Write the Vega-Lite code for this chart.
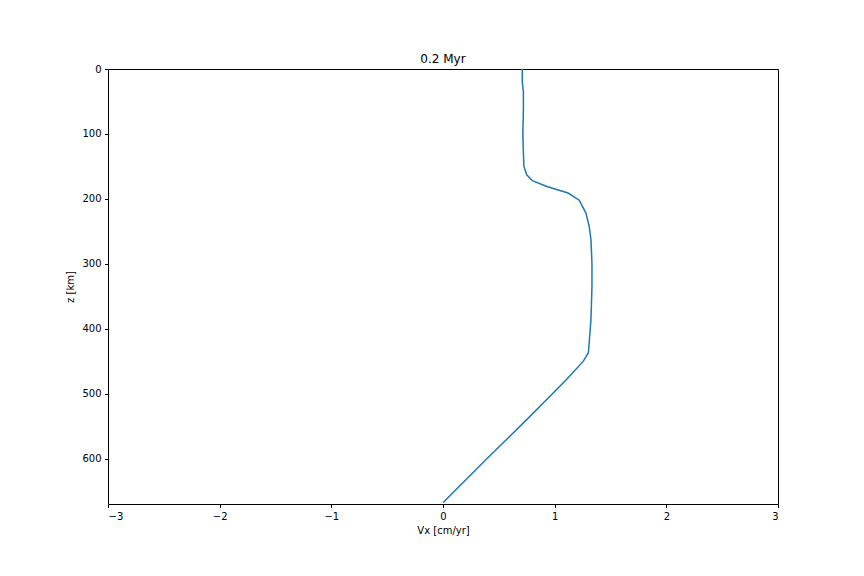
{
  "$schema": "https://vega.github.io/schema/vega-lite/v6.json",
  "width": 670,
  "height": 435,
  "autosize": "none",
  "padding": {"left": 108, "top": 69, "right": 86, "bottom": 72},
  "background": "white",
  "title": {"text": "0.2 Myr", "font": "DejaVu Sans", "fontSize": 12, "fontWeight": "normal", "color": "black", "offset": -2},
  "config": {
    "view": {"stroke": "black", "strokeWidth": 1},
    "axis": {
      "grid": false,
      "domain": false,
      "tickColor": "black",
      "tickSize": 3.5,
      "labelFont": "DejaVu Sans",
      "labelFontSize": 10,
      "labelColor": "black",
      "labelPadding": 3.5,
      "titleFont": "DejaVu Sans",
      "titleFontSize": 10,
      "titleFontWeight": "normal",
      "titleColor": "black"
    }
  },
  "data": {
    "values": [
      {"vx": 0.71, "z": 0},
      {"vx": 0.71, "z": 20},
      {"vx": 0.72, "z": 35},
      {"vx": 0.72, "z": 60},
      {"vx": 0.715, "z": 100},
      {"vx": 0.72, "z": 130},
      {"vx": 0.725, "z": 150},
      {"vx": 0.75, "z": 163},
      {"vx": 0.8, "z": 172},
      {"vx": 0.93, "z": 181},
      {"vx": 1.12, "z": 191},
      {"vx": 1.22, "z": 202},
      {"vx": 1.28, "z": 222},
      {"vx": 1.31, "z": 243},
      {"vx": 1.325, "z": 263},
      {"vx": 1.334, "z": 300},
      {"vx": 1.334, "z": 335},
      {"vx": 1.325, "z": 386},
      {"vx": 1.311, "z": 417},
      {"vx": 1.302, "z": 437},
      {"vx": 1.257, "z": 450},
      {"vx": 1.108, "z": 478},
      {"vx": 0.929, "z": 509},
      {"vx": 0.75, "z": 540},
      {"vx": 0.585, "z": 568},
      {"vx": 0.406, "z": 598},
      {"vx": 0.25, "z": 625},
      {"vx": 0.115, "z": 648},
      {"vx": 0, "z": 668}
    ]
  },
  "mark": {"type": "line", "color": "#1f77b4", "strokeWidth": 1.5},
  "encoding": {
    "x": {
      "field": "vx",
      "type": "quantitative",
      "title": "Vx [cm/yr]",
      "scale": {"domain": [-3, 3], "nice": false, "zero": false},
      "axis": {"values": [-3, -2, -1, 0, 1, 2, 3], "labelExpr": "replace(datum.label, '-', '\u2212')", "titlePadding": 4}
    },
    "y": {
      "field": "z",
      "type": "quantitative",
      "title": "z [km]",
      "scale": {"domain": [0, 670], "nice": false, "reverse": true},
      "axis": {"values": [0, 100, 200, 300, 400, 500, 600], "titlePadding": 6}
    },
    "order": {"field": "z", "type": "quantitative"}
  }
}
